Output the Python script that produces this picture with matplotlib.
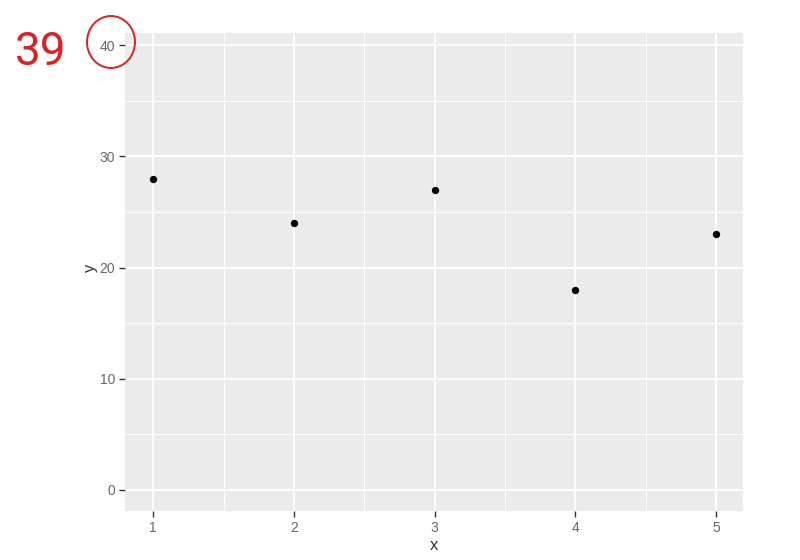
import matplotlib
matplotlib.use("Agg")
import matplotlib.pyplot as plt
from matplotlib.patches import Ellipse, Rectangle

x_vals = [1, 2, 3, 4, 5]
y_vals = [28, 24, 27, 18, 23]
x_ticks = [1, 2, 3, 4, 5]
y_ticks = [0, 10, 20, 30, 40]
annotation = "39"

plt.rcParams["font.family"] = ["Liberation Sans", "DejaVu Sans"]

fig = plt.figure(figsize=(8, 5.6), dpi=100)
ax = fig.add_axes([125/800, 1-511/560, 618/800, 478/560])
ax.set_facecolor("#EBEBEB")
for s in ax.spines.values():
    s.set_visible(False)

ax.set_xlim(0.8, 5.19)
ax.set_ylim(-1.9, 41.1)
ax.set_xticks(x_ticks)
ax.set_yticks(y_ticks)
ax.set_xticks([1.5, 2.5, 3.5, 4.5], minor=True)
ax.set_yticks([5, 15, 25, 35], minor=True)
ax.grid(which="major", color="white", linewidth=1.3)
ax.grid(which="minor", color="white", linewidth=0.7)
ax.set_axisbelow(True)
ax.tick_params(which="major", length=4, width=1, color="#333333",
               labelcolor="#666666", labelsize=10, pad=3)
ax.tick_params(which="minor", length=0)

ax.scatter(x_vals, y_vals, s=28, color="black", zorder=3, linewidths=0)

fig.text(90/800, 1-268/560, "y", rotation=90, ha="center", va="center",
         fontsize=12, color="#333333")
fig.text(434/800, 1-546/560, "x", ha="center", va="center",
         fontsize=12, color="#333333")
fig.patches.append(Rectangle((0, 0), 1, 10/560, transform=fig.transFigure,
                             facecolor="white", edgecolor="none", zorder=10))

# red handwritten annotation
fig.text(41/800, 1-52/560, annotation, ha="center", va="center",
         fontsize=33, color="#E02020", fontweight="normal",
         family=["Roboto", "DejaVu Sans"])
fig.patches.append(Ellipse((111/800, 1-42/560), 48/800, 52/560,
                           transform=fig.transFigure, fill=False,
                           edgecolor="#E02020", linewidth=1.4))

fig.savefig("out.png", dpi=100)
